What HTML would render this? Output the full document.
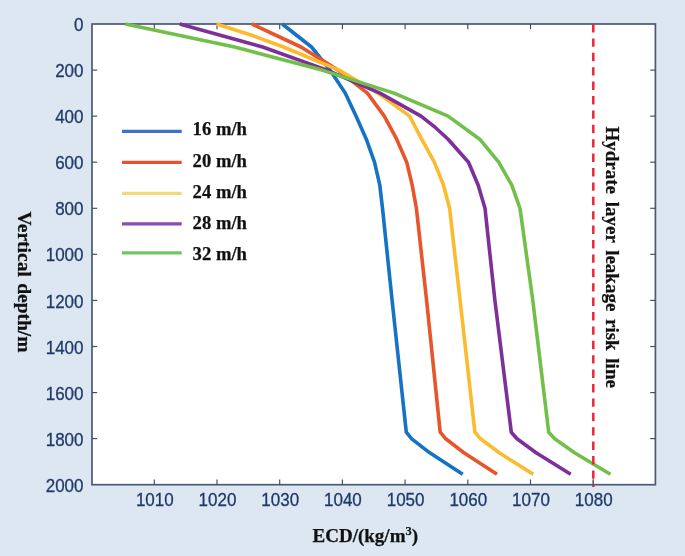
<!DOCTYPE html>
<html><head><meta charset="utf-8"><title>ECD chart</title>
<style>
html,body{margin:0;padding:0;background:#dce7f2;}
svg{display:block}
.tick{font-family:"Liberation Sans",sans-serif;font-size:17.9px;fill:#1f3a68;stroke:#1f3a68;stroke-width:0.3px}
.ser{font-family:"Liberation Serif",serif;font-weight:bold;fill:#111;stroke:#111;stroke-width:0.25px}
</style></head><body>
<svg width="685" height="556" viewBox="0 0 685 556">
<rect x="0" y="0" width="685" height="556" fill="#dce7f2"/>
<rect x="92.0" y="24.0" width="563.4" height="460.7" fill="#ffffff"/>
<rect x="92.0" y="24.0" width="563.4" height="460.7" fill="none" stroke="#4d5a74" stroke-width="1.7"/>
<line x1="154.3" y1="484.7" x2="154.3" y2="479.5" stroke="#404d67" stroke-width="1.15"/><line x1="154.3" y1="24.0" x2="154.3" y2="29.2" stroke="#404d67" stroke-width="1.15"/>
<text class="tick" transform="translate(154.8,506.4) scale(0.95,1)" text-anchor="middle">1010</text>
<line x1="217.0" y1="484.7" x2="217.0" y2="479.5" stroke="#404d67" stroke-width="1.15"/><line x1="217.0" y1="24.0" x2="217.0" y2="29.2" stroke="#404d67" stroke-width="1.15"/>
<text class="tick" transform="translate(217.5,506.4) scale(0.95,1)" text-anchor="middle">1020</text>
<line x1="279.7" y1="484.7" x2="279.7" y2="479.5" stroke="#404d67" stroke-width="1.15"/><line x1="279.7" y1="24.0" x2="279.7" y2="29.2" stroke="#404d67" stroke-width="1.15"/>
<text class="tick" transform="translate(280.2,506.4) scale(0.95,1)" text-anchor="middle">1030</text>
<line x1="342.4" y1="484.7" x2="342.4" y2="479.5" stroke="#404d67" stroke-width="1.15"/><line x1="342.4" y1="24.0" x2="342.4" y2="29.2" stroke="#404d67" stroke-width="1.15"/>
<text class="tick" transform="translate(342.9,506.4) scale(0.95,1)" text-anchor="middle">1040</text>
<line x1="405.1" y1="484.7" x2="405.1" y2="479.5" stroke="#404d67" stroke-width="1.15"/><line x1="405.1" y1="24.0" x2="405.1" y2="29.2" stroke="#404d67" stroke-width="1.15"/>
<text class="tick" transform="translate(405.6,506.4) scale(0.95,1)" text-anchor="middle">1050</text>
<line x1="467.8" y1="484.7" x2="467.8" y2="479.5" stroke="#404d67" stroke-width="1.15"/><line x1="467.8" y1="24.0" x2="467.8" y2="29.2" stroke="#404d67" stroke-width="1.15"/>
<text class="tick" transform="translate(468.3,506.4) scale(0.95,1)" text-anchor="middle">1060</text>
<line x1="530.5" y1="484.7" x2="530.5" y2="479.5" stroke="#404d67" stroke-width="1.15"/><line x1="530.5" y1="24.0" x2="530.5" y2="29.2" stroke="#404d67" stroke-width="1.15"/>
<text class="tick" transform="translate(531.0,506.4) scale(0.95,1)" text-anchor="middle">1070</text>
<line x1="593.2" y1="484.7" x2="593.2" y2="479.5" stroke="#404d67" stroke-width="1.15"/><line x1="593.2" y1="24.0" x2="593.2" y2="29.2" stroke="#404d67" stroke-width="1.15"/>
<text class="tick" transform="translate(593.7,506.4) scale(0.95,1)" text-anchor="middle">1080</text>
<text class="tick" transform="translate(83.5,31.1) scale(0.95,1)" text-anchor="end">0</text>
<line x1="92.0" y1="70.1" x2="97.2" y2="70.1" stroke="#404d67" stroke-width="1.15"/><line x1="655.4" y1="70.1" x2="650.1999999999999" y2="70.1" stroke="#404d67" stroke-width="1.15"/>
<text class="tick" transform="translate(83.5,77.2) scale(0.95,1)" text-anchor="end">200</text>
<line x1="92.0" y1="116.1" x2="97.2" y2="116.1" stroke="#404d67" stroke-width="1.15"/><line x1="655.4" y1="116.1" x2="650.1999999999999" y2="116.1" stroke="#404d67" stroke-width="1.15"/>
<text class="tick" transform="translate(83.5,123.2) scale(0.95,1)" text-anchor="end">400</text>
<line x1="92.0" y1="162.2" x2="97.2" y2="162.2" stroke="#404d67" stroke-width="1.15"/><line x1="655.4" y1="162.2" x2="650.1999999999999" y2="162.2" stroke="#404d67" stroke-width="1.15"/>
<text class="tick" transform="translate(83.5,169.3) scale(0.95,1)" text-anchor="end">600</text>
<line x1="92.0" y1="208.3" x2="97.2" y2="208.3" stroke="#404d67" stroke-width="1.15"/><line x1="655.4" y1="208.3" x2="650.1999999999999" y2="208.3" stroke="#404d67" stroke-width="1.15"/>
<text class="tick" transform="translate(83.5,215.4) scale(0.95,1)" text-anchor="end">800</text>
<line x1="92.0" y1="254.3" x2="97.2" y2="254.3" stroke="#404d67" stroke-width="1.15"/><line x1="655.4" y1="254.3" x2="650.1999999999999" y2="254.3" stroke="#404d67" stroke-width="1.15"/>
<text class="tick" transform="translate(83.5,261.4) scale(0.95,1)" text-anchor="end">1000</text>
<line x1="92.0" y1="300.4" x2="97.2" y2="300.4" stroke="#404d67" stroke-width="1.15"/><line x1="655.4" y1="300.4" x2="650.1999999999999" y2="300.4" stroke="#404d67" stroke-width="1.15"/>
<text class="tick" transform="translate(83.5,307.5) scale(0.95,1)" text-anchor="end">1200</text>
<line x1="92.0" y1="346.5" x2="97.2" y2="346.5" stroke="#404d67" stroke-width="1.15"/><line x1="655.4" y1="346.5" x2="650.1999999999999" y2="346.5" stroke="#404d67" stroke-width="1.15"/>
<text class="tick" transform="translate(83.5,353.6) scale(0.95,1)" text-anchor="end">1400</text>
<line x1="92.0" y1="392.6" x2="97.2" y2="392.6" stroke="#404d67" stroke-width="1.15"/><line x1="655.4" y1="392.6" x2="650.1999999999999" y2="392.6" stroke="#404d67" stroke-width="1.15"/>
<text class="tick" transform="translate(83.5,399.7) scale(0.95,1)" text-anchor="end">1600</text>
<line x1="92.0" y1="438.6" x2="97.2" y2="438.6" stroke="#404d67" stroke-width="1.15"/><line x1="655.4" y1="438.6" x2="650.1999999999999" y2="438.6" stroke="#404d67" stroke-width="1.15"/>
<text class="tick" transform="translate(83.5,445.7) scale(0.95,1)" text-anchor="end">1800</text>
<text class="tick" transform="translate(83.5,491.8) scale(0.95,1)" text-anchor="end">2000</text>
<polyline points="282.3,24.0 311.5,47.0 330.0,70.1 345.2,93.1 356.0,116.1 366.3,139.2 374.5,162.2 379.8,185.2 382.5,208.3 392.1,300.4 406.3,432.2 411.7,438.8 429.8,452.8 462.7,474.3" fill="none" stroke="#1473c4" stroke-width="3.6" stroke-linejoin="round" stroke-linecap="butt"/>
<polyline points="252.0,24.0 301.0,47.0 338.0,70.1 367.4,93.1 384.3,116.1 396.7,139.2 406.7,162.2 412.2,185.2 416.4,208.3 426.6,300.4 440.2,432.2 445.7,438.8 463.9,452.8 497.0,474.3" fill="none" stroke="#e9552b" stroke-width="3.6" stroke-linejoin="round" stroke-linecap="butt"/>
<polyline points="216.5,24.0 252.5,35.5 283.5,47.0 339.0,70.1 378.0,93.1 409.6,116.1 421.7,139.2 434.3,162.2 443.5,185.2 449.6,208.3 460.1,300.4 474.9,432.2 480.5,438.8 499.3,452.8 533.3,474.3" fill="none" stroke="#fbbb2e" stroke-width="3.6" stroke-linejoin="round" stroke-linecap="butt"/>
<polyline points="179.7,24.0 262.7,47.0 327.0,70.1 380.0,93.1 421.0,116.1 435.6,127.7 448.1,139.2 468.5,162.2 478.2,185.2 485.0,208.3 494.9,300.4 511.3,432.2 517.0,438.8 536.1,452.8 570.7,474.3" fill="none" stroke="#7d2f9a" stroke-width="3.6" stroke-linejoin="round" stroke-linecap="butt"/>
<polyline points="125.4,24.0 234.6,47.0 322.0,70.1 394.0,93.1 448.1,116.1 479.7,139.2 498.7,162.2 511.8,185.2 520.0,208.3 532.8,300.4 548.7,432.2 554.7,438.8 574.5,452.8 610.4,474.3" fill="none" stroke="#72c04a" stroke-width="3.6" stroke-linejoin="round" stroke-linecap="butt"/>
<line x1="593.3" y1="24.0" x2="593.3" y2="487" stroke="#e8283a" stroke-width="2.5" stroke-dasharray="8.4,6.0"/>
<line x1="593.2" y1="485.4" x2="593.2" y2="479.5" stroke="#4d5a74" stroke-width="1"/>
<line x1="122.0" y1="131.3" x2="181.7" y2="131.3" stroke="#3a74c6" stroke-width="3.2"/><text class="ser" x="192.6" y="135.0" font-size="18.6px" textLength="54.4" lengthAdjust="spacingAndGlyphs">16 m/h</text>
<line x1="122.0" y1="162.3" x2="181.7" y2="162.3" stroke="#e9502c" stroke-width="3.2"/><text class="ser" x="192.6" y="166.6" font-size="18.6px" textLength="54.4" lengthAdjust="spacingAndGlyphs">20 m/h</text>
<line x1="122.0" y1="193.4" x2="181.7" y2="193.4" stroke="#f9d67c" stroke-width="3.2"/><text class="ser" x="192.6" y="197.7" font-size="18.6px" textLength="54.4" lengthAdjust="spacingAndGlyphs">24 m/h</text>
<line x1="122.0" y1="223.8" x2="181.7" y2="223.8" stroke="#8a4ab3" stroke-width="3.2"/><text class="ser" x="192.6" y="229.1" font-size="18.6px" textLength="54.4" lengthAdjust="spacingAndGlyphs">28 m/h</text>
<line x1="122.0" y1="252.9" x2="181.7" y2="252.9" stroke="#74c562" stroke-width="3.2"/><text class="ser" x="192.6" y="260.1" font-size="18.6px" textLength="54.4" lengthAdjust="spacingAndGlyphs">32 m/h</text>
<text class="ser" x="312.5" y="542" font-size="19px" textLength="105.6" lengthAdjust="spacingAndGlyphs">ECD/(kg/m<tspan font-size="12.5px" dy="-7">3</tspan><tspan dy="7">)</tspan></text>
<text class="ser" transform="translate(17.8,211.5) rotate(90)" font-size="19.5px" word-spacing="1.4px" textLength="141" lengthAdjust="spacingAndGlyphs">Vertical depth/m</text>
<text class="ser" transform="translate(606.4,126.5) rotate(90)" font-size="19px" word-spacing="2.9px" textLength="261.4" lengthAdjust="spacingAndGlyphs">Hydrate layer leakage risk line</text>
</svg>
</body></html>
